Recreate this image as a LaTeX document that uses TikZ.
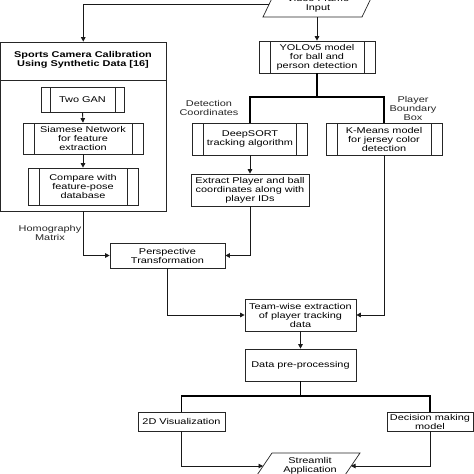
\documentclass[tikz,border=0pt]{standalone}
\usepackage{fontspec}
\setmainfont{Liberation Sans}[FakeStretch=1.3]
\usetikzlibrary{arrows.meta}
\begin{document}
\begin{tikzpicture}[x=1pt,y=-1pt,
  every node/.style={font=\fontsize{8.4}{9}\selectfont, align=center, inner sep=0pt},
  box/.style={draw=black!85, line width=0.7pt, rectangle, fill=white},
  procbox/.style={box, path picture={
      \draw[black!85, line width=0.7pt] ([xshift=#1]path picture bounding box.north west) -- ([xshift=#1]path picture bounding box.south west);
      \draw[black!85, line width=0.7pt] ([xshift=-#1]path picture bounding box.north east) -- ([xshift=-#1]path picture bounding box.south east);}},
  procbox/.default=11pt,
  conn/.style={draw=black!90, line width=0.9pt},
  arr/.style={conn, -{Triangle[length=4.5pt,width=4.5pt]}},
  junc/.style={draw=black, line width=1.4pt},
  lbl/.style={text=black!85}
]
\useasboundingbox (0,0) rectangle (474,474);

% Video frame input (parallelogram)
\draw[box] (263,17) -- (362,17) -- (374,-8) -- (275,-8) -- cycle;
\node (video) at (318,4) {Video Frame\\Input};
\coordinate (videoL) at (269,4);
\coordinate (videoB) at (317,17);

% Sports camera calibration container
\node[box, minimum width=165.5pt, minimum height=169pt] (sports) at (83.25,126.5) {};
\draw[black!85, line width=0.7pt] (0.5,80) -- (166,80);
\node[font=\fontsize{8.4}{9}\selectfont\bfseries] (title) at (83,60) {Sports Camera Calibration\\Using Synthetic Data [16]};

\node[procbox=9pt, minimum width=83pt, minimum height=25pt] (twogan) at (82.5,99.5) {Two GAN};
\node[procbox, minimum width=120pt, minimum height=31pt] (siamese) at (83,138.5) {Siamese Network\\for feature\\extraction};
\node[procbox, minimum width=110pt, minimum height=37pt] (compare) at (83,186.5) {Compare with\\feature-pose\\database};

% Right column
\node[procbox, minimum width=116pt, minimum height=32pt] (yolo) at (317,57) {YOLOv5 model\\for ball and\\person detection};
\node[procbox, minimum width=115pt, minimum height=32pt] (deepsort) at (250,139) {DeepSORT\\tracking algorithm};
\node[procbox, minimum width=116pt, minimum height=32pt] (kmeans) at (384,139) {K-Means model\\for jersey color\\detection};
\node[box, minimum width=118pt, minimum height=32pt] (extract) at (250,190) {Extract Player and ball\\coordinates along with\\player IDs};
\node[box, minimum width=115pt, minimum height=25pt] (persp) at (167.5,255.5) {Perspective\\Transformation};
\node[box, minimum width=111pt, minimum height=32pt] (team) at (300.5,315) {Team-wise extraction\\of player tracking\\data};
\node[box, minimum width=111pt, minimum height=32pt] (data) at (300.5,365) {Data pre-processing};
\node[box, minimum width=87pt, minimum height=19pt] (viz) at (181.5,421.5) {2D Visualization};
\node[box, minimum width=86pt, minimum height=19pt] (decision) at (430,421.5) {Decision making\\model};

% Streamlit application (parallelogram)
\draw[box] (255,478) -- (343,478) -- (360,453) -- (272,453) -- cycle;
\node (stream) at (310,466) {Streamlit\\Application};
\coordinate (streamL) at (263,466);
\coordinate (streamR) at (351,466);

% Labels
\node[lbl] (detlbl) at (209,108) {Detection\\Coordinates};
\node[lbl] (pbblbl) at (413,108) {Player\\Boundary\\Box};
\node[lbl] (homlbl) at (50,233) {Homography\\Matrix};

% Connectors
\draw[arr] (videoL) -| (sports.north);
\draw[arr] (videoB) -- (yolo.north);
\coordinate (j1) at (317,97);
\draw[junc] (yolo.south) -- (j1);
\draw[junc] (deepsort.north) |- (j1) -| (kmeans.north);
\draw[arr] (deepsort.south) -- (extract.north);
\draw[arr] (twogan.south) -- (siamese.north);
\draw[arr] (siamese.south) -- (compare.north);
\draw[arr] (sports.south) |- (persp.west);
\draw[arr] (extract.south) |- (persp.east);
\draw[arr] (persp.south) |- (team.west);
\draw[arr] (kmeans.south) |- (team.east);
\draw[arr] (team.south) -- (data.north);
\coordinate (j2) at (300.5,396);
\draw[junc] (data.south) -- (j2);
\draw[junc] (viz.north) |- (j2) -| (decision.north);
\draw[arr] (viz.south) |- (streamL);
\draw[arr] (decision.south) |- (streamR);
\end{tikzpicture}
\end{document}
